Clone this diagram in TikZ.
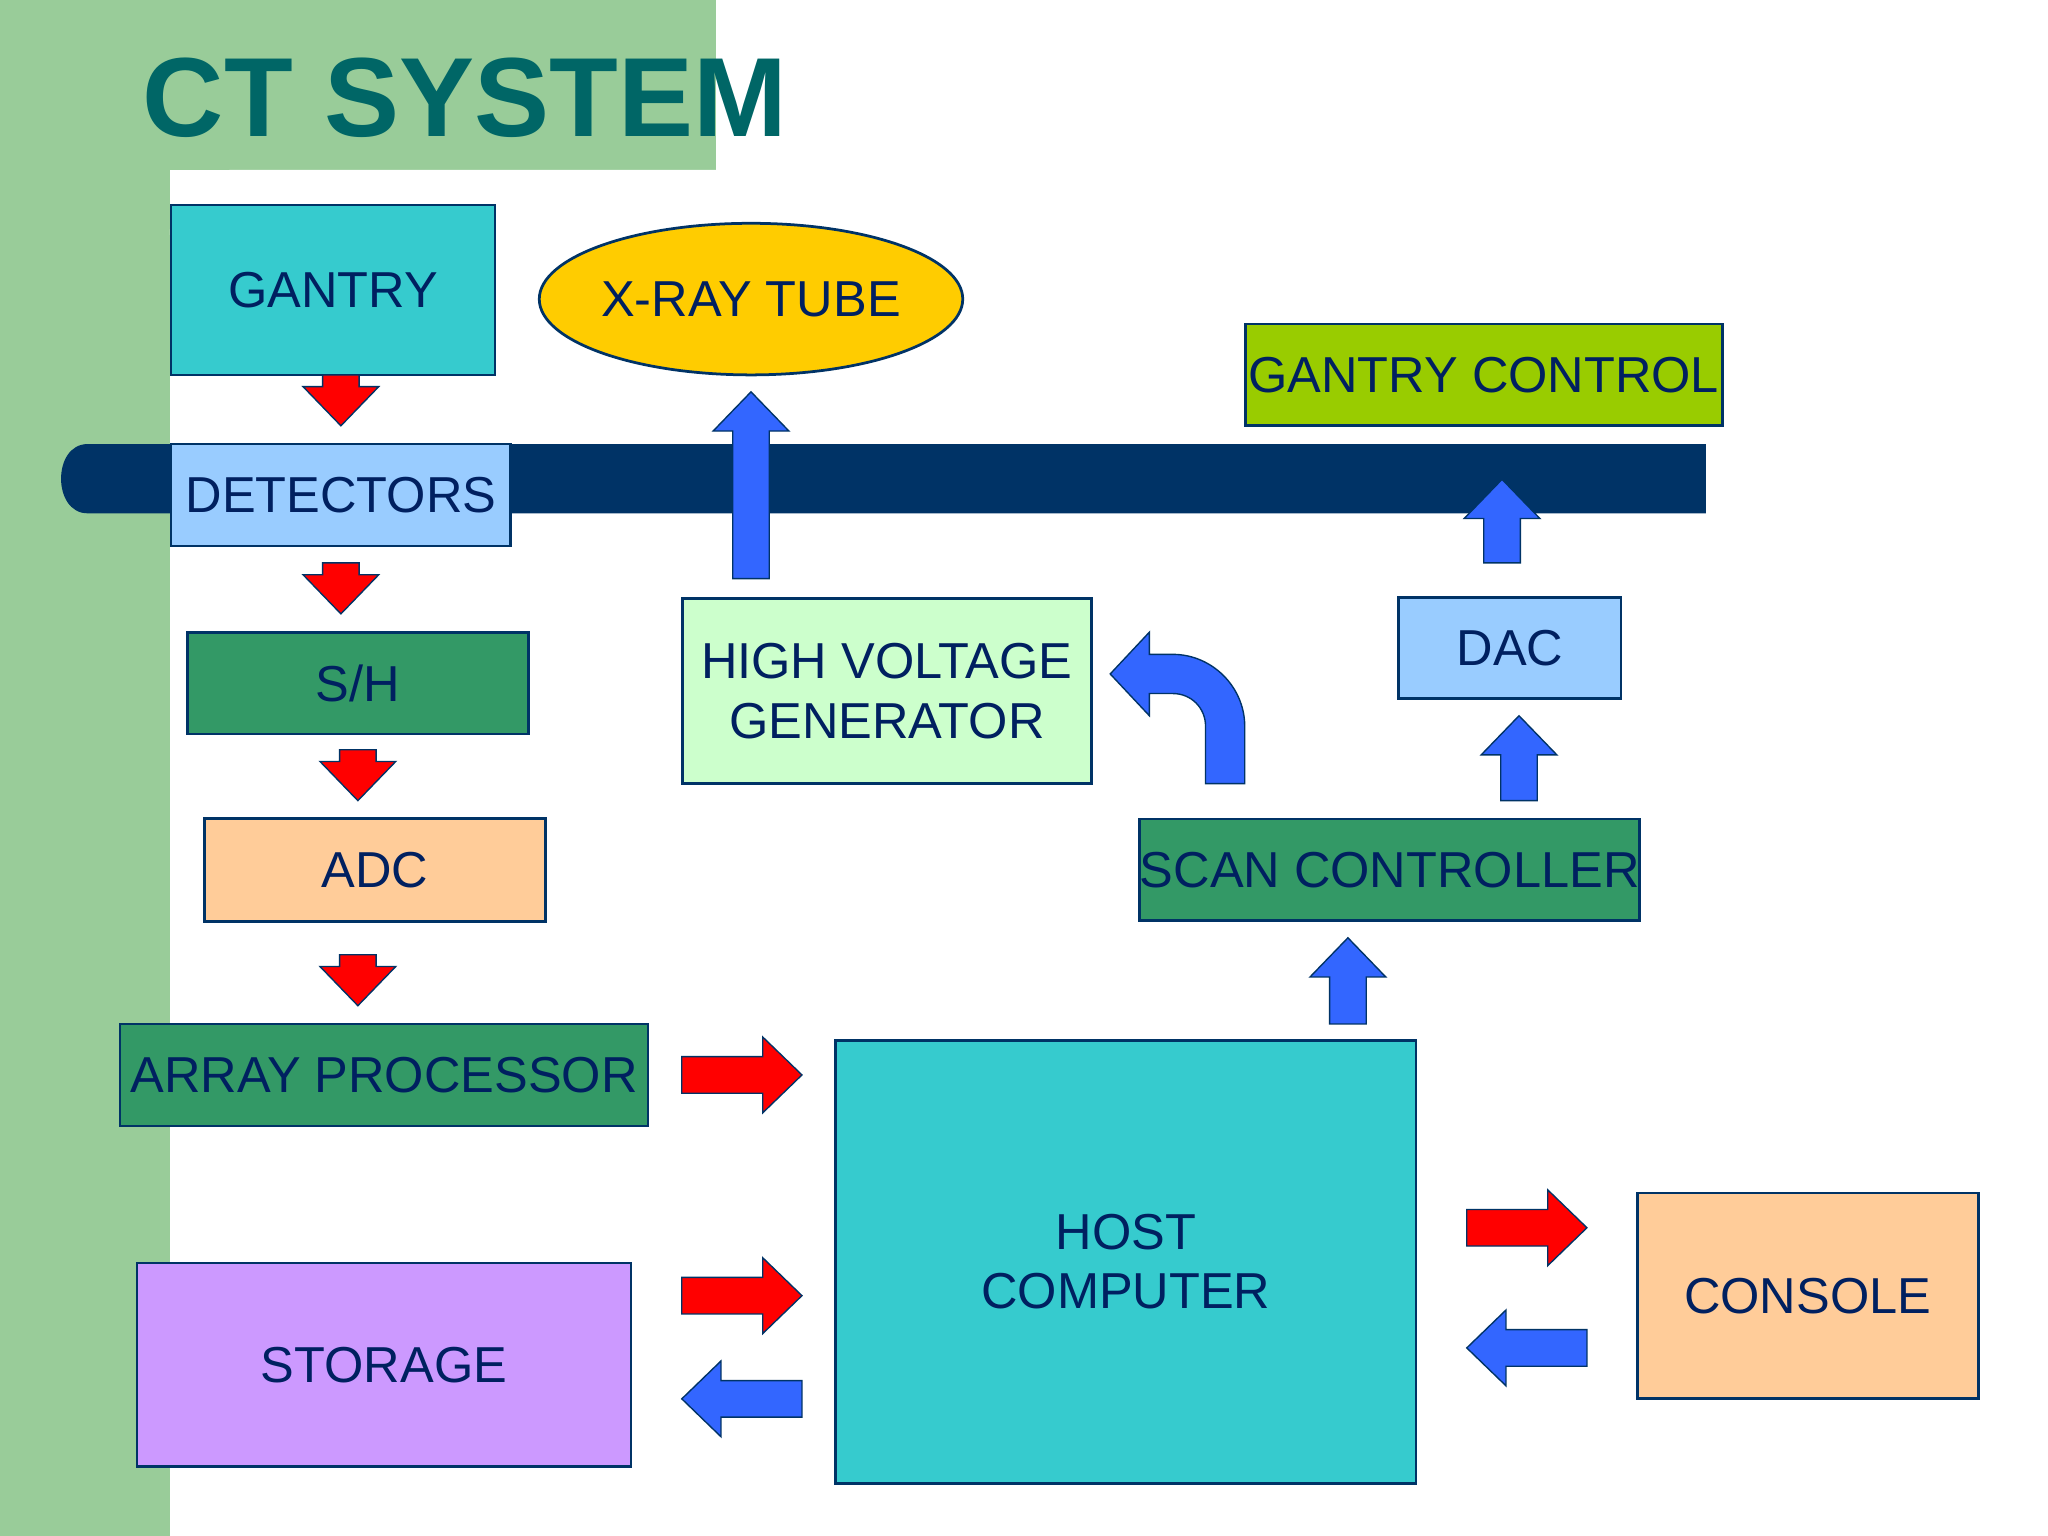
\documentclass[tikz,border=0pt]{standalone}
\usepackage{fontspec}
\setmainfont{Liberation Sans}
\usetikzlibrary{shapes.geometric}
\definecolor{navy}{RGB}{0,51,102}
\definecolor{txt}{RGB}{0,32,96}
\definecolor{teal}{RGB}{54,203,206}
\definecolor{lblue}{RGB}{153,204,255}
\definecolor{dgreen}{RGB}{51,153,102}
\definecolor{peach}{RGB}{255,204,153}
\definecolor{lilac}{RGB}{204,153,255}
\definecolor{gold}{RGB}{255,204,0}
\definecolor{lime}{RGB}{153,204,0}
\definecolor{mint}{RGB}{204,255,204}
\definecolor{sidegreen}{RGB}{153,204,153}
\definecolor{ttl}{RGB}{0,102,102}
\definecolor{ared}{RGB}{255,0,0}
\definecolor{ablue}{RGB}{51,102,255}
\newcommand\blockarr[5]{\filldraw[fill=#1,draw=navy,line width=0.3pt,shift={(#2,#3)},rotate=#4] (0,-14)--(#5-30,-14)--(#5-30,-29)--(#5,0)--(#5-30,29)--(#5-30,14)--(0,14)--cycle;}
\begin{document}
\begin{tikzpicture}[x=0.01cm,y=-0.01cm,
 box/.style={draw=navy,line width=0.6pt,text=txt,font=\fontsize{11}{13}\selectfont,inner sep=0pt,align=center}]
\useasboundingbox (0,0) rectangle (1568,1176);
\fill[white] (0,0) rectangle (1568,1176);
\fill[sidegreen] (0,0) rectangle (130,1176);
\fill[sidegreen] (0,0) rectangle (548,130);
\fill[white] (130,180) .. controls (130,150) and (150,130) .. (180,130) -- (548,130) -- (548,180) -- cycle;
\node[text=ttl,font=\fontsize{24.5}{28}\bfseries\selectfont,anchor=west] (title) at (97,75) {CT SYSTEM};
% bar
\fill[navy] (67,340) -- (1306,340) -- (1306,393) -- (67,393) .. controls (40,393) and (40,340) .. (67,340) -- cycle;
% boxes
\node[box,fill=teal,minimum width=2.48cm,minimum height=1.30cm] (gantry) at (255,222) {GANTRY};
\node[box,fill=lblue,minimum width=2.60cm,minimum height=0.78cm] (det) at (261,379) {DETECTORS};
\node[box,fill=dgreen,minimum width=2.61cm,minimum height=0.78cm] (sh) at (274,523) {S/H};
\node[box,fill=peach,minimum width=2.61cm,minimum height=0.79cm] (adc) at (287,666) {ADC};
\node[box,fill=dgreen,minimum width=4.04cm,minimum height=0.78cm] (ap) at (294,823) {ARRAY PROCESSOR};
\node[box,fill=lilac,minimum width=3.78cm,minimum height=1.56cm] (st) at (294,1045) {STORAGE};
\node[box,ellipse,fill=gold,minimum width=2.60cm,minimum height=1.16cm] (xr) at (575,229) {X-RAY TUBE};
\node[box,fill=lime,minimum width=3.65cm,minimum height=0.78cm] (gc) at (1136,287) {GANTRY CONTROL};
\node[box,fill=mint,minimum width=3.13cm,minimum height=1.42cm] (hv) at (679,529) {HIGH VOLTAGE\\GENERATOR};
\node[box,fill=lblue,minimum width=1.70cm,minimum height=0.77cm] (dac) at (1156,496) {DAC};
\node[box,fill=dgreen,minimum width=3.79cm,minimum height=0.78cm] (sc) at (1064,666) {SCAN CONTROLLER};
\node[box,fill=teal,minimum width=4.44cm,minimum height=3.39cm] (host) at (862,966) {HOST\\COMPUTER};
\node[box,fill=peach,minimum width=2.61cm,minimum height=1.57cm] (con) at (1384,992) {CONSOLE};
% arrows
\blockarr{ared}{261}{287}{-90}{39}
\blockarr{ared}{261}{431}{-90}{39}
\blockarr{ared}{274}{574}{-90}{39}
\blockarr{ared}{274}{731}{-90}{39}
\blockarr{ablue}{575}{443}{90}{143}
\blockarr{ablue}{1150}{431}{90}{64}
\blockarr{ablue}{1163}{613}{90}{65}
\blockarr{ablue}{1032}{784}{90}{66}
\blockarr{ared}{522}{823}{0}{92}
\blockarr{ared}{522}{992}{0}{92}
\blockarr{ared}{1123}{940}{0}{92}
\blockarr{ablue}{614}{1071}{180}{92}
\blockarr{ablue}{1215}{1032}{180}{92}
\filldraw[fill=ablue,draw=navy,line width=0.3pt] (953,600) -- (953,556) .. controls (953,526) and (928,501) .. (898,501) -- (880,501) -- (880,484) -- (850,516) -- (880,548) -- (880,531) -- (898,531) .. controls (912,531) and (923,542) .. (923,556) -- (923,600) -- cycle;
\end{tikzpicture}
\end{document}
